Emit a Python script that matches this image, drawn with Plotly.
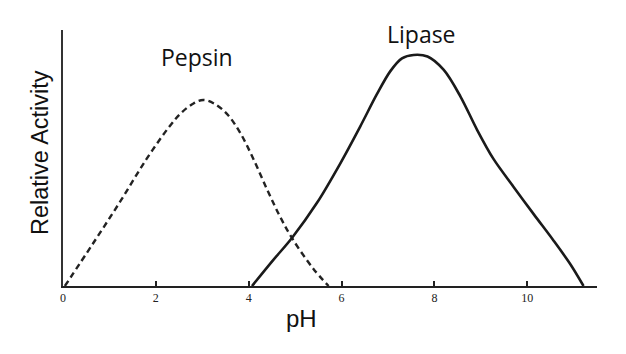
import plotly.graph_objects as go

# Data (pH vs relative activity, lipase peak = 100)
pepsin_ph = [0.04, 0.65, 1.23, 1.80, 2.31, 2.55, 2.81, 3.02, 3.25, 3.53, 3.81, 4.10, 4.39, 4.65, 4.93, 5.39, 5.72]
pepsin_act = [0.0, 18.5, 36.5, 55, 69.5, 75, 79, 80.5, 79, 74.5, 66.5, 55, 42, 31, 20.8, 7.5, 0.0]

lipase_ph = [4.07, 4.53, 4.93, 5.47, 5.97, 6.40, 6.76, 7.05, 7.30, 7.55, 7.85, 8.20, 8.56,
             8.92, 9.27, 9.70, 10.14, 10.57, 10.93, 11.21]
lipase_act = [0.0, 11.3, 20.8, 36, 53, 69, 83, 93, 98.5, 100, 99.3, 93.5, 82,
              67.5, 55, 43, 31, 19.5, 9.3, 0.0]

x_ticks = [0, 2, 4, 6, 8, 10]
x_ticklabels = ["0", "2", "4", "6", "8", "10"]

W, H = 626, 354
L, R, T, B = 63, 29, 30, 68
PW, PH = W - L - R, H - T - B

fig = go.Figure()
fig.add_trace(go.Scatter(x=pepsin_ph, y=pepsin_act, mode="lines", name="Pepsin",
                         line=dict(color="#222", width=2.4, dash="6px,4px",
                                   shape="spline", smoothing=1.0)))
fig.add_trace(go.Scatter(x=lipase_ph, y=lipase_act, mode="lines", name="Lipase",
                         line=dict(color="#1a1a1a", width=2.6, shape="spline", smoothing=0.9)))

fig.update_layout(
    width=W, height=H,
    margin=dict(l=L, r=R, t=T, b=B),
    paper_bgcolor="white", plot_bgcolor="white",
    showlegend=False,
    xaxis=dict(range=[0, 11.5], tickvals=x_ticks, ticktext=x_ticklabels,
               showgrid=False, zeroline=False, showline=True, linecolor="#222", linewidth=2,
               ticks="inside", ticklen=5, tickwidth=1.5, tickcolor="#222",
               tickfont=dict(family="Liberation Serif", size=12, color="#222")),
    yaxis=dict(range=[0, 110.8], showticklabels=False, showgrid=False, zeroline=False,
               showline=True, linecolor="#333", linewidth=2, ticks=""),
    annotations=[
        dict(x=2.89, y=99, xref="x", yref="y", text="Pepsin", showarrow=False,
             xanchor="center", yanchor="middle",
             font=dict(family="Open Sans", size=23, color="#111")),
        dict(x=7.72, y=109, xref="x", yref="y", text="Lipase", showarrow=False,
             xanchor="center", yanchor="middle",
             font=dict(family="Open Sans", size=23, color="#111")),
        dict(x=(301 - L) / PW, y=(H - 318 - B) / PH, xref="paper", yref="paper",
             text="pH", showarrow=False, xanchor="center", yanchor="middle",
             font=dict(family="Liberation Sans", size=24, color="#111")),
        dict(x=(40 - L) / PW, y=(H - 153 - B) / PH, xref="paper", yref="paper",
             text="Relative Activity", showarrow=False, textangle=-90,
             xanchor="center", yanchor="middle",
             font=dict(family="Liberation Sans", size=23.5, color="#111")),
    ],
)

fig.write_html("out.html")
